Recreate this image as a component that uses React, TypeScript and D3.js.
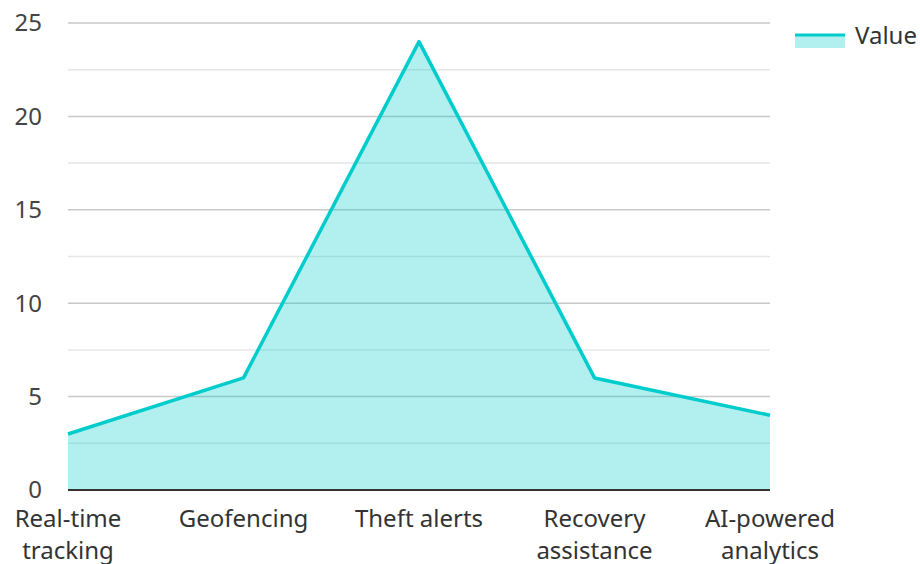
import React from "react";
import * as d3 from "d3";

const categories = ["Real-time\ntracking", "Geofencing", "Theft alerts", "Recovery\nassistance", "AI-powered\nanalytics"];
const values = [3, 6, 24, 6, 4];
const majorTicks = [0, 5, 10, 15, 20, 25];
const minorTicks = [2.5, 7.5, 12.5, 17.5, 22.5];
const seriesName = "Value";

export default function App() {
  const W = 920, H = 564;
  const left = 68, right = 770, top = 23, bottom = 490;
  const x = d3.scalePoint<string>().domain(categories).range([left, right]);
  const y = d3.scaleLinear().domain([0, 25]).range([bottom, top]);
  const pts = categories.map((c, i) => [x(c)!, y(values[i])] as [number, number]);
  const line = d3.line()(pts)!;
  const area = d3.area<[number, number]>().x(d => d[0]).y0(y(0)).y1(d => d[1])(pts)!;
  const font = "'Noto Sans', sans-serif";
  return (
    <svg width={W} height={H} style={{ position: "absolute", left: 0, top: 0 }} fontFamily={font}>
      {minorTicks.map(t => (
        <line key={"m" + t} x1={left} x2={right} y1={y(t)} y2={y(t)} stroke="#e6e6e6" strokeWidth={1.5} />
      ))}
      {majorTicks.filter(t => t > 0).map(t => (
        <line key={"M" + t} x1={left} x2={right} y1={y(t)} y2={y(t)} stroke="#c8c8c8" strokeWidth={1.5} />
      ))}
      <path d={area} fill="#00cccc" fillOpacity={0.3} />
      <path d={line} fill="none" stroke="#00cccc" strokeWidth={3.5} strokeLinejoin="round" />
      <line x1={left} x2={right} y1={y(0)} y2={y(0)} stroke="#333" strokeWidth={2} />
      {majorTicks.map(t => (
        <text key={"t" + t} x={42} y={y(t)} dy="0.35em" textAnchor="end" fontSize={24} fill="#444">{t}</text>
      ))}
      {categories.map(c => (
        <text key={c} x={x(c)} y={527} textAnchor="middle" fontSize={24} fill="#333">
          {c.split("\n").map((s, i) => (
            <tspan key={i} x={x(c)} dy={i === 0 ? 0 : 32}>{s}</tspan>
          ))}
        </text>
      ))}
      <rect x={795} y={34} width={50} height={14} fill="#00cccc" fillOpacity={0.3} />
      <line x1={795} x2={845} y1={35} y2={35} stroke="#00cccc" strokeWidth={3} />
      <text x={855} y={36} dy="0.35em" fontSize={24} fill="#333">{seriesName}</text>
    </svg>
  );
}
